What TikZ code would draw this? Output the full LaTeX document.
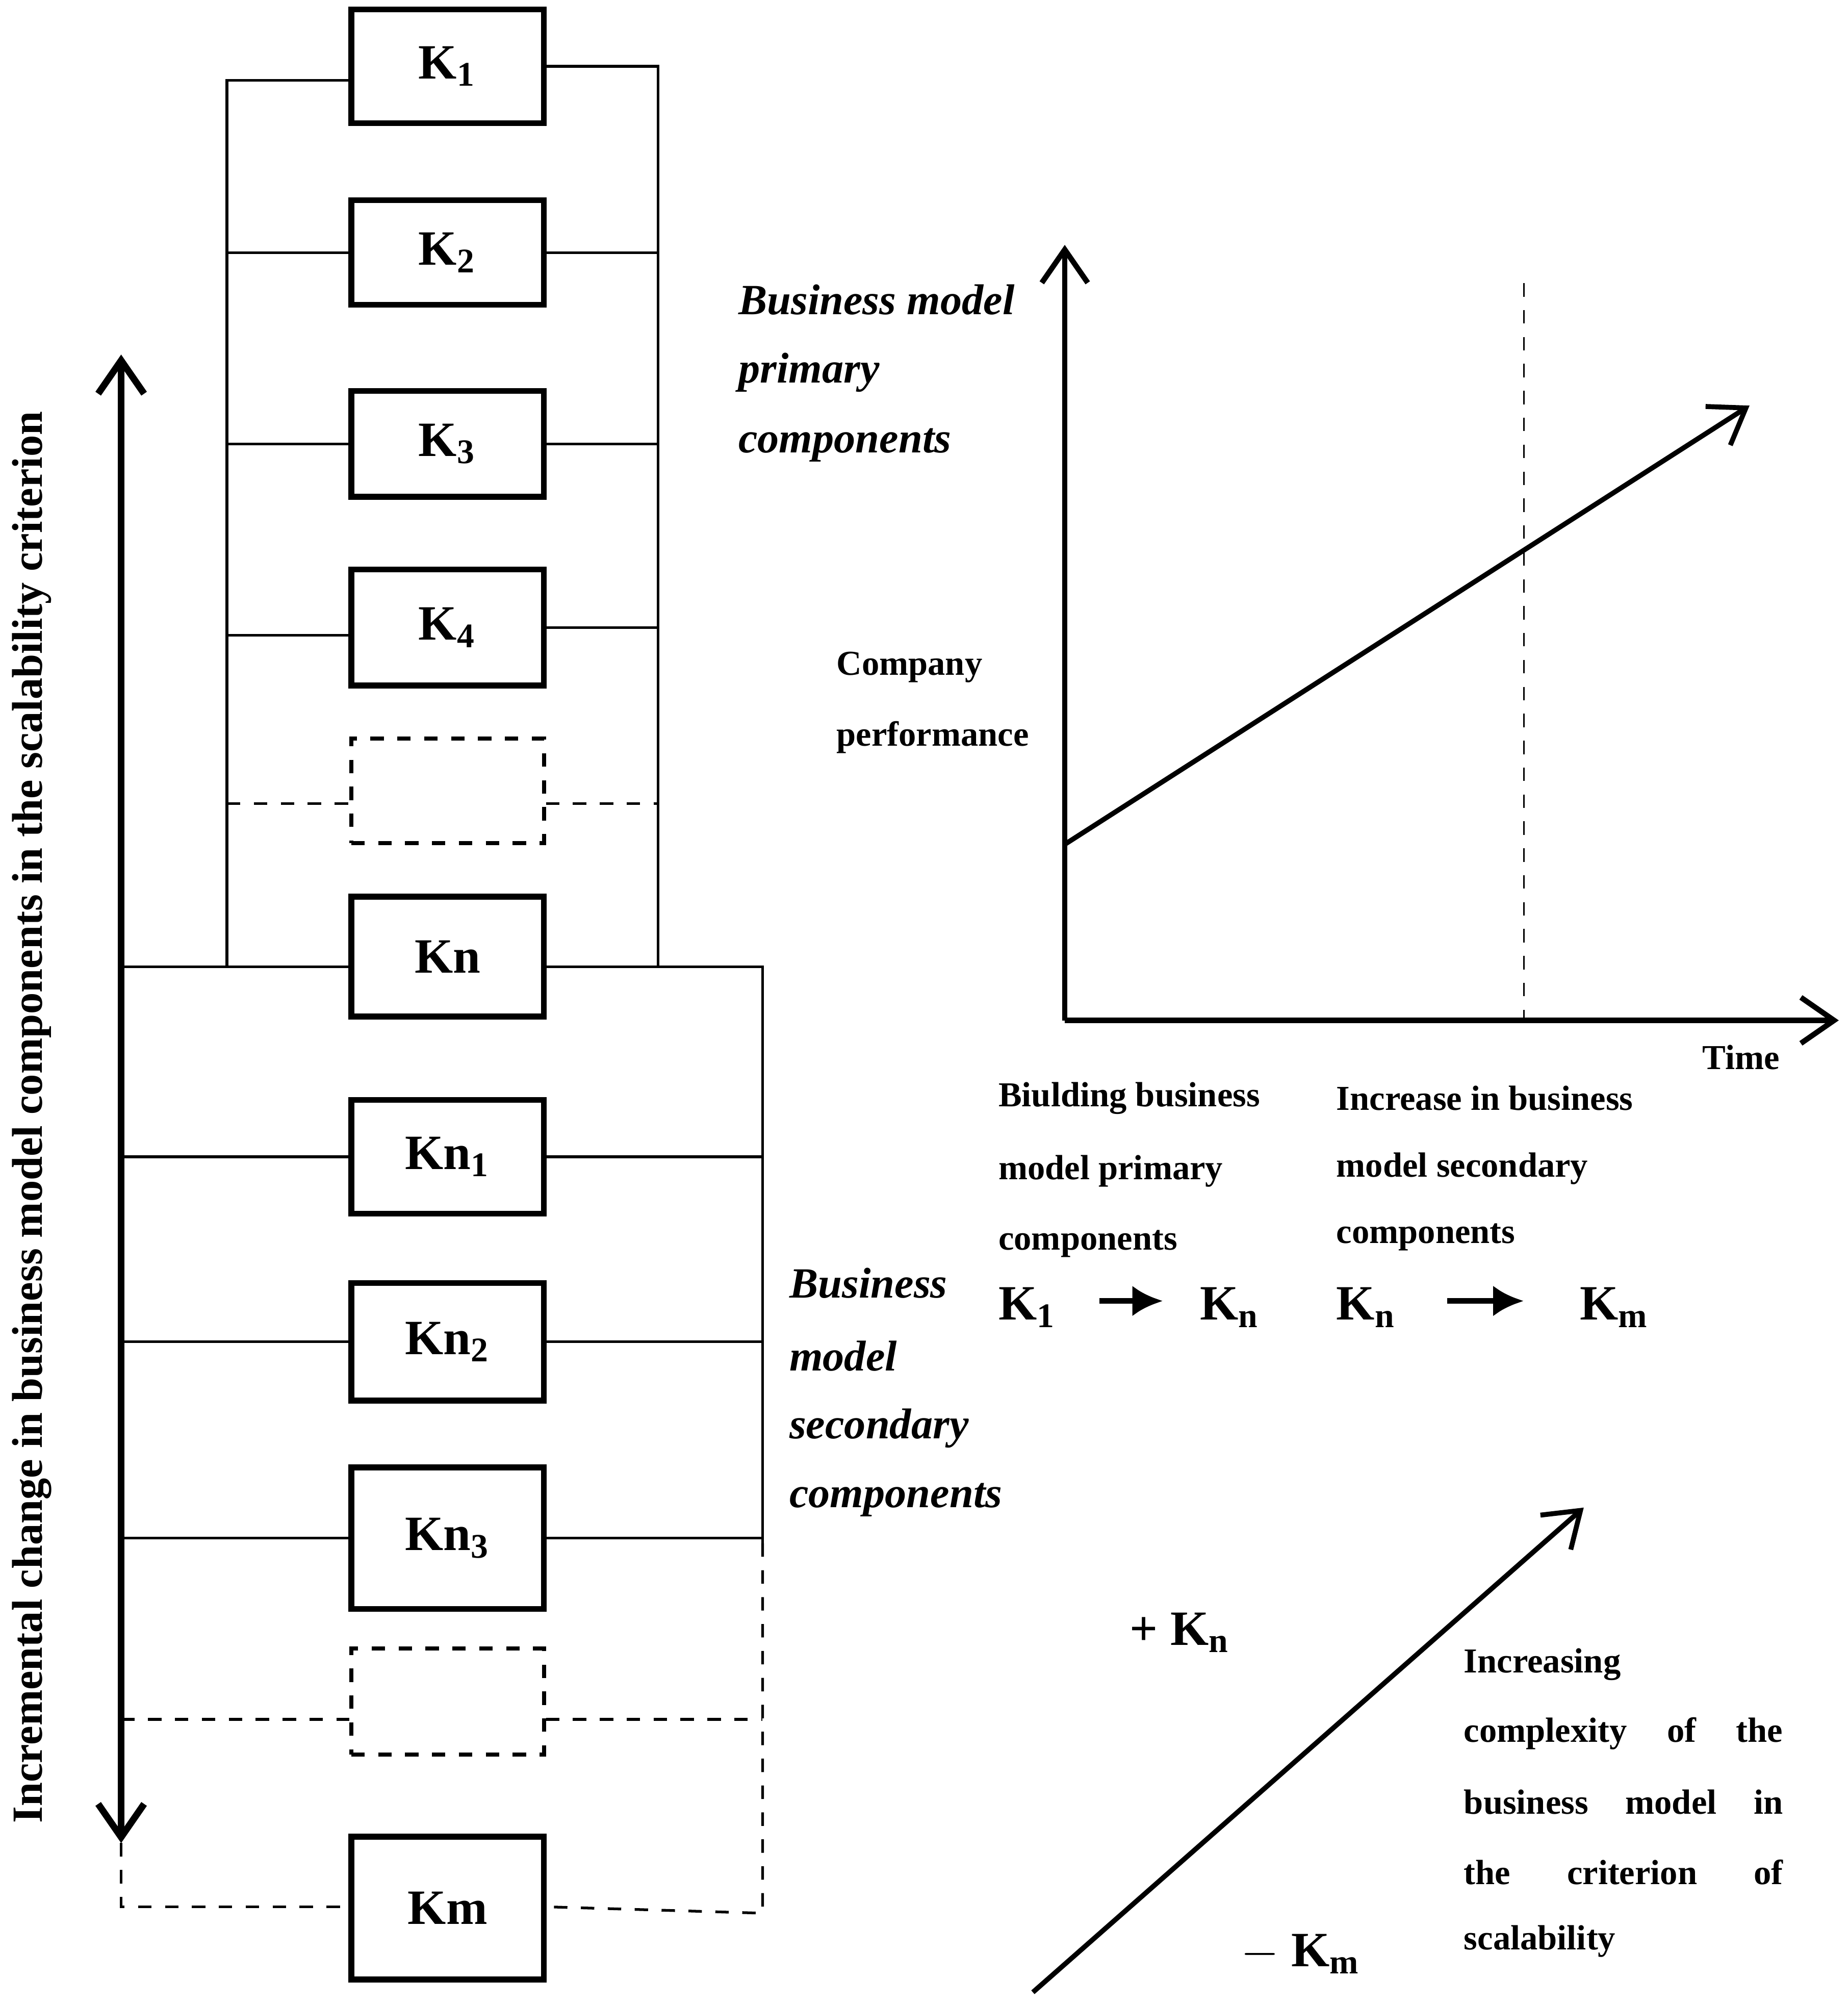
\documentclass[tikz,border=0pt]{standalone}
\usepackage{fontspec}
\setmainfont{Liberation Serif}
\usetikzlibrary{arrows.meta, positioning, calc}

\begin{document}
\begin{tikzpicture}[
        x = 0.01cm, y = -0.01cm,
        > = {Straight Barb[length=2.6mm,width=3.6mm]},
        line width = 0.6pt,
        comp/.style = {
            draw,
            rectangle,
            line width = 1.3pt,
            minimum width = 1.51cm,
            inner sep = 0pt,
            font = \bfseries\fontsize{11pt}{13pt}\selectfont
        },
        ghost/.style = {comp, dashed, line width = 0.9pt},
        lbl/.style = {anchor=west, inner sep = 0pt, font = \bfseries\fontsize{7.8pt}{9pt}\selectfont},
        ital/.style = {anchor=west, inner sep = 0pt, font = \bfseries\itshape\fontsize{9.6pt}{11pt}\selectfont},
        every node/.style = {font=\bfseries}
    ]
        \useasboundingbox (0,0) rectangle (1449,1572);

        % primary components
        \node[comp, minimum height=0.89cm] (k1) at (351,52) {K\textsubscript{1}};
        \node[comp, minimum height=0.82cm] (k2) at (351,198) {K\textsubscript{2}};
        \node[comp, minimum height=0.83cm] (k3) at (351,348) {K\textsubscript{3}};
        \node[comp, minimum height=0.91cm] (k4) at (351,492) {K\textsubscript{4}};
        \node[ghost, minimum height=0.82cm] (kx) at (351,620) {};
        \node[comp, minimum height=0.94cm] (kn) at (351,750) {Kn};

        % secondary components
        \node[comp, minimum height=0.89cm] (kn1) at (351,907) {Kn\textsubscript{1}};
        \node[comp, minimum height=0.92cm] (kn2) at (351,1052) {Kn\textsubscript{2}};
        \node[comp, minimum height=1.11cm] (kn3) at (351,1206) {Kn\textsubscript{3}};
        \node[ghost, minimum height=0.83cm] (ky) at (351,1334) {};
        \node[comp, minimum height=1.12cm] (km) at (351,1496) {Km};

        \coordinate (ul) at (178,758);
        \coordinate (ur) at (516,758);
        \coordinate (ll) at (95,758);
        \coordinate (lr) at (598,758);

        % upper bus
        \draw (ul) -- (178,63) -- (k1.west |- 0,63);
        \draw (ur) -- (516,52) -- (k1.east);
        \foreach \k in {k2,k3} {
            \draw (178,0 |- \k.west) -- (\k.west);
            \draw (\k.east) -- (516,0 |- \k.east);
        }
        \draw (178,498) -- (k4.west |- 0,498);
        \draw (k4.east) -- (516,0 |- k4.east);
        \draw[dashed] (178,630) -- (kx.west |- 0,630);
        \draw[dashed] (kx.east |- 0,630) -- (516,630);

        % lower bus
        \draw (ll) -- (kn.west |- ll);
        \draw (kn.east |- lr) -- (lr) -- (598,1210);
        \foreach \k in {kn1,kn2,kn3} {
            \draw (95,0 |- \k.west) -- (\k.west);
            \draw (\k.east) -- (598,0 |- \k.east);
        }
        \draw[dashed] (598,1210) -- (598,1500) -- (km.east |- 0,1495);
        \draw[dashed] (95,1348) -- (ky.west |- 0,1348);
        \draw[dashed] (ky.east |- 0,1348) -- (598,1348);
        \draw[dashed] (95,1445) -- (95,1495) -- (km.west |- 0,1495);

        % scalability arrow
        \coordinate (st) at (95,278);
        \coordinate (sb) at (95,1445);
        \draw[<->, line width=1.5pt] (st) -- (sb);
        \node[rotate=90, inner sep=0pt, font=\bfseries\fontsize{9.6pt}{11pt}\selectfont] (crit) at (25,876)
            {Incremental change in business model components in the scalability criterion};

        \node[ital] (pri) at (578,235) {Business model};
        \node[ital] at (578,292) {primary};
        \node[ital] at (578,349) {components};

        \node[ital] (sec) at (618,1006) {Business};
        \node[ital] at (618,1063) {model};
        \node[ital] at (618,1120) {secondary};
        \node[ital] at (618,1176) {components};

        % performance chart
        \coordinate (o) at (835,800);
        \coordinate (ytop) at (835,192);
        \coordinate (xend) at (1442,800);
        \draw[->, line width=1.2pt] (o) -- (ytop);
        \draw[->, line width=1.2pt] (o) -- (xend);
        \draw[dashed, line width=0.4pt] (1195,222) -- (1195,800);
        \coordinate (g0) at (835,662);
        \coordinate (g1) at (1372,318);
        \draw[->, line width=1.1pt] (g0) -- (g1);

        \node[lbl] (perf) at (655,523) {Company};
        \node[lbl] at (655,578) {performance};
        \node[lbl] (time) at (1334,829) {Time};

        \node[lbl] (bld) at (782,861) {Biulding business};
        \node[lbl] at (782,918) {model primary};
        \node[lbl] at (782,975) {components};
        \node[lbl] (inc) at (1047,861) {Increase in business};
        \node[lbl] at (1047,916) {model secondary};
        \node[lbl] at (1047,970) {components};

        \node[inner sep=0pt, anchor=west, font=\bfseries\fontsize{11pt}{13pt}\selectfont] (a1) at (782,1025) {K\textsubscript{1}};
        \node[inner sep=0pt, anchor=west, font=\bfseries\fontsize{11pt}{13pt}\selectfont] (a2) at (940,1025) {K\textsubscript{n}};
        \node[inner sep=0pt, anchor=west, font=\bfseries\fontsize{11pt}{13pt}\selectfont] (a3) at (1047,1025) {K\textsubscript{n}};
        \node[inner sep=0pt, anchor=west, font=\bfseries\fontsize{11pt}{13pt}\selectfont] (a4) at (1238,1025) {K\textsubscript{m}};
        \draw[-{Latex[length=2.4mm,width=2.4mm]}, line width=1.3pt] (862,1020) -- (912,1020);
        \draw[-{Latex[length=2.4mm,width=2.4mm]}, line width=1.3pt] (1135,1020) -- (1195,1020);

        % complexity
        \coordinate (c0) at (810,1562);
        \coordinate (c1) at (1242,1182);
        \draw[->, line width=1.1pt] (c0) -- (c1);
        \node[inner sep=0pt, anchor=west, font=\bfseries\fontsize{11pt}{13pt}\selectfont] (plus) at (885,1280) {+ K\textsubscript{n}};
        \node[inner sep=0pt, anchor=west, font=\bfseries\fontsize{11pt}{13pt}\selectfont] (minus) at (972,1532) {$-$ K\textsubscript{m}};
        \node[lbl] (cx) at (1147,1305) {Increasing};
        \node[lbl, text width=2.5cm, align=justify] at (1147,1359) {complexity\hfill of\hfill the};
        \node[lbl, text width=2.5cm, align=justify] at (1147,1413) {business\hfill model\hfill in};
        \node[lbl, text width=2.5cm, align=justify] at (1147,1468) {the\hfill criterion\hfill of};
        \node[lbl] at (1147,1522) {scalability};
    \end{tikzpicture}
\end{document}
